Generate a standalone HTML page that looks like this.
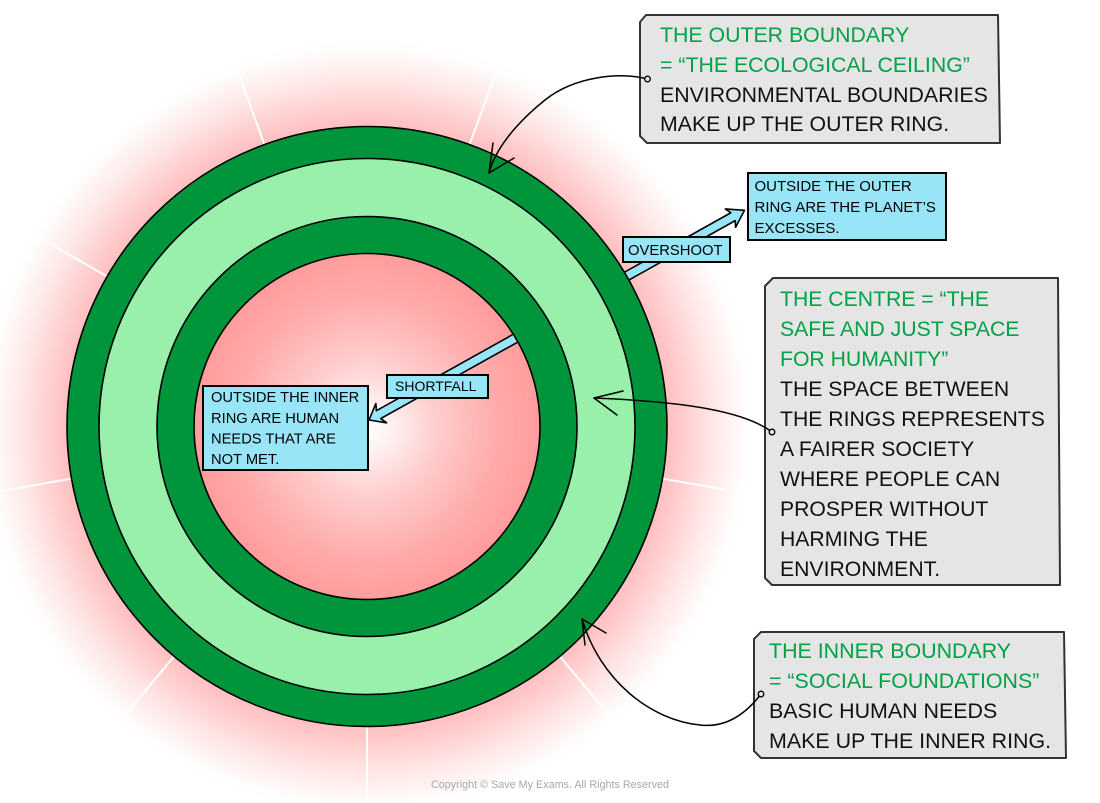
<!DOCTYPE html>
<html>
<head>
<meta charset="utf-8">
<style>
  html,body{margin:0;padding:0;background:#fff;}
  body{width:1100px;height:803px;overflow:hidden;}
  svg{display:block;}
  text{font-family:"Liberation Sans", sans-serif;}
</style>
</head>
<body>
<svg width="1100" height="803" viewBox="0 0 1100 803" xmlns="http://www.w3.org/2000/svg">
  <defs>
    <radialGradient id="glow" gradientUnits="userSpaceOnUse" cx="367" cy="426.5" r="390">
      <stop offset="0" stop-color="#ffbcbc"/>
      <stop offset="0.77" stop-color="#ffbfbf"/>
      <stop offset="0.82" stop-color="#ffcfcf"/>
      <stop offset="0.88" stop-color="#ffe4e4"/>
      <stop offset="0.945" stop-color="#fff6f6"/>
      <stop offset="1" stop-color="#ffffff" stop-opacity="0"/>
    </radialGradient>
    <radialGradient id="pink" gradientUnits="userSpaceOnUse" cx="367" cy="428" r="173">
      <stop offset="0" stop-color="#ffffff"/>
      <stop offset="0.12" stop-color="#fff3f3"/>
      <stop offset="0.4" stop-color="#ffcdcd"/>
      <stop offset="0.75" stop-color="#ffabab"/>
      <stop offset="1" stop-color="#ff9c9c"/>
    </radialGradient>
    <clipPath id="innerClip">
      <circle cx="367" cy="426.5" r="172"/>
    </clipPath>
  </defs>

  <!-- outer glow -->
  <circle cx="367" cy="426.5" r="390" fill="url(#glow)"/>

  <!-- outer spokes -->
  <g transform="translate(367,426.5)" stroke="#ffffff" stroke-width="2">
    <line x1="300" y1="0" x2="395" y2="0" transform="rotate(90)"/>
    <line x1="300" y1="0" x2="395" y2="0" transform="rotate(50)"/>
    <line x1="300" y1="0" x2="395" y2="0" transform="rotate(10)"/>
    <line x1="300" y1="0" x2="395" y2="0" transform="rotate(-30)"/>
    <line x1="300" y1="0" x2="395" y2="0" transform="rotate(-70)"/>
    <line x1="300" y1="0" x2="395" y2="0" transform="rotate(-110)"/>
    <line x1="300" y1="0" x2="395" y2="0" transform="rotate(-150)"/>
    <line x1="300" y1="0" x2="395" y2="0" transform="rotate(170)"/>
    <line x1="300" y1="0" x2="395" y2="0" transform="rotate(130)"/>
  </g>

  <!-- arrow (full, under rings) -->
  <g transform="translate(369,420) rotate(-29.18)">
    <polygon points="0,0 14,-11 11,-4.5 417,-4.5 414,-10.5 430,0 414,10.5 417,4.5 11,4.5 14,11"
      fill="#98e5f8" stroke="#000" stroke-width="1.6" stroke-linejoin="round"/>
  </g>

  <!-- rings -->
  <circle cx="367" cy="426.5" r="300" fill="#00953a" stroke="#000" stroke-width="1.6"/>
  <circle cx="367" cy="426.5" r="268" fill="#98f0ab" stroke="#000" stroke-width="1.6"/>
  <circle cx="367" cy="426.5" r="210" fill="#00953a" stroke="#000" stroke-width="1.6"/>
  <circle cx="367" cy="426.5" r="173" fill="url(#pink)" stroke="#000" stroke-width="1.6"/>

  <!-- inner spokes -->
  <g transform="translate(367,426.5)" stroke="#ffffff" stroke-width="1.6" clip-path="url(#innerClip)">
    <line x1="18" y1="0" x2="172" y2="0" transform="rotate(0)"/>
    <line x1="18" y1="0" x2="172" y2="0" transform="rotate(30)"/>
    <line x1="18" y1="0" x2="172" y2="0" transform="rotate(60)"/>
    <line x1="18" y1="0" x2="172" y2="0" transform="rotate(90)"/>
    <line x1="18" y1="0" x2="172" y2="0" transform="rotate(120)"/>
    <line x1="18" y1="0" x2="172" y2="0" transform="rotate(150)"/>
    <line x1="18" y1="0" x2="172" y2="0" transform="rotate(180)"/>
    <line x1="18" y1="0" x2="172" y2="0" transform="rotate(210)"/>
    <line x1="18" y1="0" x2="172" y2="0" transform="rotate(240)"/>
    <line x1="18" y1="0" x2="172" y2="0" transform="rotate(270)"/>
    <line x1="18" y1="0" x2="172" y2="0" transform="rotate(300)"/>
    <line x1="18" y1="0" x2="172" y2="0" transform="rotate(330)"/>
  </g>

  <!-- arrow inside pink -->
  <g clip-path="url(#innerClip)">
    <g transform="translate(369,420) rotate(-29.18)">
      <polygon points="0,0 14,-11 11,-4.5 417,-4.5 414,-10.5 430,0 414,10.5 417,4.5 11,4.5 14,11"
        fill="#98e5f8" stroke="#000" stroke-width="1.6" stroke-linejoin="round"/>
    </g>
  </g>

  <!-- SHORTFALL label -->
  <rect x="387" y="375" width="101" height="23" fill="#98e5f8" stroke="#000" stroke-width="2"/>
  <text x="395" y="391" font-size="14" fill="#000">SHORTFALL</text>

  <!-- left blue box -->
  <rect x="203" y="386" width="165" height="84" fill="#98e5f8" stroke="#000" stroke-width="2"/>
  <g font-size="14.7" fill="#000">
    <text x="211" y="402">OUTSIDE THE INNER</text>
    <text x="211" y="423">RING ARE HUMAN</text>
    <text x="211" y="443.5">NEEDS THAT ARE</text>
    <text x="211" y="464">NOT MET.</text>
  </g>

  <!-- OVERSHOOT label -->
  <rect x="623" y="237" width="107" height="25" fill="#98e5f8" stroke="#000" stroke-width="2"/>
  <text x="628" y="255" font-size="14.8" fill="#000">OVERSHOOT</text>

  <!-- upper right blue box -->
  <rect x="748" y="173" width="198" height="67" fill="#98e5f8" stroke="#000" stroke-width="2"/>
  <g font-size="15" fill="#000">
    <text x="754.5" y="191">OUTSIDE THE OUTER</text>
    <text x="754.5" y="212">RING ARE THE PLANET’S</text>
    <text x="754.5" y="233">EXCESSES.</text>
  </g>

  <!-- Top grey box -->
  <polygon points="646,15 998,15 1000,143 647,143 640,136 640,22" fill="#e5e5e5" stroke="#333" stroke-width="2" stroke-linejoin="round"/>
  <g font-size="21.3">
    <text x="660" y="42" fill="#00a045">THE OUTER BOUNDARY</text>
    <text x="660" y="72" fill="#00a045">= “THE ECOLOGICAL CEILING”</text>
    <text x="660" y="102" fill="#111">ENVIRONMENTAL BOUNDARIES</text>
    <text x="660" y="131" fill="#111">MAKE UP THE OUTER RING.</text>
  </g>

  <!-- Middle grey box -->
  <polygon points="773,278 1058,278 1060,585 772,585 765,578 765,286" fill="#e5e5e5" stroke="#333" stroke-width="2" stroke-linejoin="round"/>
  <g font-size="21.2">
    <text x="780" y="306" fill="#00a045">THE CENTRE = “THE</text>
    <text x="780" y="336" fill="#00a045">SAFE AND JUST SPACE</text>
    <text x="780" y="366" fill="#00a045">FOR HUMANITY”</text>
    <text x="780" y="396" fill="#111">THE SPACE BETWEEN</text>
    <text x="780" y="426" fill="#111">THE RINGS REPRESENTS</text>
    <text x="780" y="456" fill="#111">A FAIRER SOCIETY</text>
    <text x="780" y="486" fill="#111">WHERE PEOPLE CAN</text>
    <text x="780" y="516" fill="#111">PROSPER WITHOUT</text>
    <text x="780" y="546" fill="#111">HARMING THE</text>
    <text x="780" y="576" fill="#111">ENVIRONMENT.</text>
  </g>

  <!-- Bottom grey box -->
  <polygon points="761,632 1064,632 1066,758 761,758 754,751 754,639" fill="#e5e5e5" stroke="#333" stroke-width="2" stroke-linejoin="round"/>
  <g font-size="21.4">
    <text x="769" y="658" fill="#00a045">THE INNER BOUNDARY</text>
    <text x="769" y="688" fill="#00a045">= “SOCIAL FOUNDATIONS”</text>
    <text x="769" y="718" fill="#111">BASIC HUMAN NEEDS</text>
    <text x="769" y="748" fill="#111">MAKE UP THE INNER RING.</text>
  </g>

  <!-- connectors -->
  <g fill="none" stroke="#000" stroke-width="1.5" stroke-linecap="round" stroke-linejoin="round">
    <path d="M647.5,79 C620,72 575,76 545,100 C515,124 495,150 489,173"/>
    <path d="M493,143 L489,173 L514,158"/>
    <path d="M772,432 C745,412 690,402 594,398"/>
    <path d="M623,391 L594,398 L617,415"/>
    <path d="M761,694 C745,715 725,728 700,725 C650,720 600,680 582,619"/>
    <path d="M606,633 L582,619 L585,645"/>
  </g>
  <g fill="#e5e5e5" stroke="#000" stroke-width="1.3">
    <circle cx="647.5" cy="79" r="2.8"/>
    <circle cx="772" cy="432" r="2.8"/>
    <circle cx="761" cy="694" r="2.8"/>
  </g>

  <!-- copyright -->
  <text x="431" y="788" font-size="11" fill="#a8a8a8" textLength="238" lengthAdjust="spacingAndGlyphs">Copyright © Save My Exams. All Rights Reserved</text>
</svg>
</body>
</html>
